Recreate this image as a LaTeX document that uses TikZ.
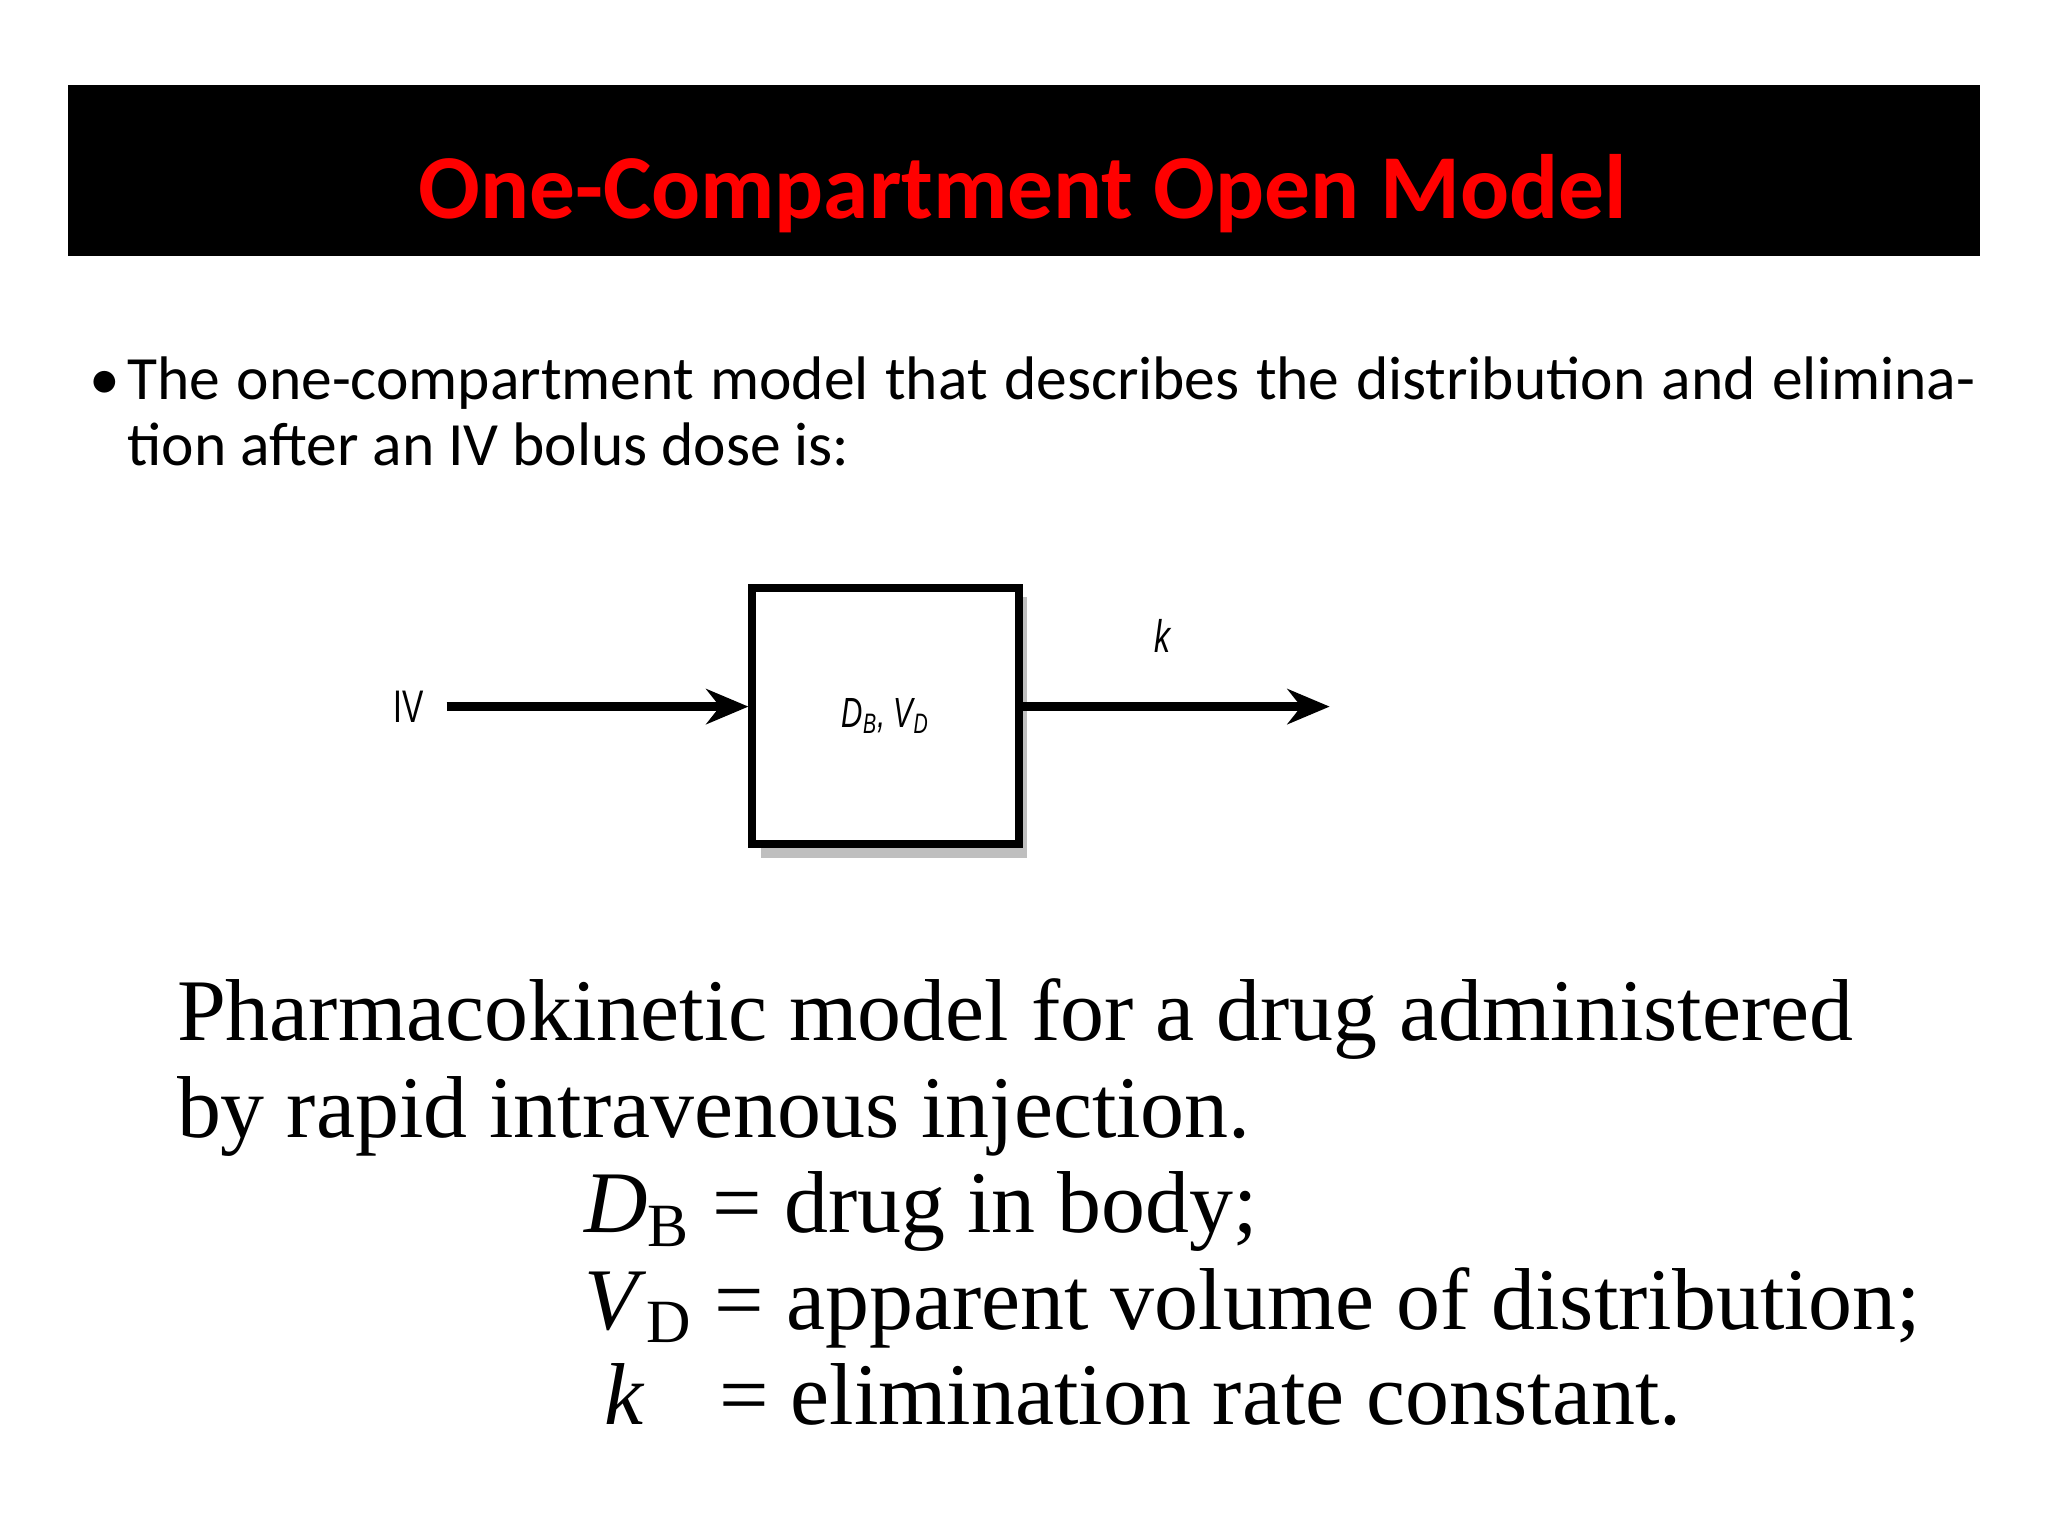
\documentclass[tikz,border=0pt]{standalone}
\usepackage{fontspec}
\setmainfont{Liberation Serif}
\newfontfamily\calfont{Carlito}
\newfontfamily\lsans{Liberation Sans}
\usetikzlibrary{arrows.meta}
\begin{document}
\begin{tikzpicture}[x=0.013061cm,y=-0.013061cm,
  arr/.style={line width=2.5pt,-{Stealth[length=12pt,width=10pt]}},
  ser/.style={anchor=base west,inner sep=0pt,font=\fontsize{25}{30}\selectfont}]
\useasboundingbox (0,0) rectangle (1568,1176);
\fill[white] (0,0) rectangle (1568,1176);
\fill[black] (52,65) rectangle (1516,196);
\node (title) at (783,148) {\calfont\bfseries\fontsize{26}{31}\selectfont\color{red}One-Compartment Open Model};
\node (bul) [anchor=base west,inner sep=0pt] at (68,306) {\calfont\fontsize{17.5}{18.6}\selectfont\textbullet};
\node (para) [anchor=base west,inner sep=0pt,text width=18.48cm,align=justify,font=\calfont\fontsize{17.5}{18.6}\selectfont] at (97,306)
 {The one-compartment model that describes the distribution and elimination after an IV bolus dose is:};
\fill[gray!50] (583,457) rectangle (786,657);
\node (box) [draw,fill=white,line width=2.2pt,minimum width=204*0.013061cm,minimum height=196*0.013061cm,anchor=north west] at (573,447) {};
\node at (box.center) {\lsans\itshape\fontsize{12}{14}\selectfont\scalebox{0.7}[1]{D\textsubscript{B}, V\textsubscript{D}}};
\node (iv) at (313,541) {\lsans\fontsize{13}{15}\selectfont\scalebox{0.7}[1]{IV}};
\coordinate (ivs) at (342,541);
\coordinate (kend) at (1018,541);
\draw[arr] (ivs) -- (ivs -| box.west);
\draw[arr] (kend -| box.east) -- (kend);
\node (k) at (890,487) {\lsans\itshape\fontsize{13}{15}\selectfont\scalebox{0.7}[1]{k}};
\node[ser] (l1) at (135,797) {Pharmacokinetic model for a drug administered};
\node[ser] (l2) at (135,871) {by rapid intravenous injection.};
\node[ser] (l3) at (447,944) {\textit{D}\textsubscript{B} = drug in body;};
\node[ser] (l4) at (447,1018) {\textit{V}\textsubscript{D} = apparent volume of distribution;};
\node[ser] (l5) at (462,1091) {\textit{k}\hspace{0.6em} = elimination rate constant.};
\end{tikzpicture}
\end{document}
